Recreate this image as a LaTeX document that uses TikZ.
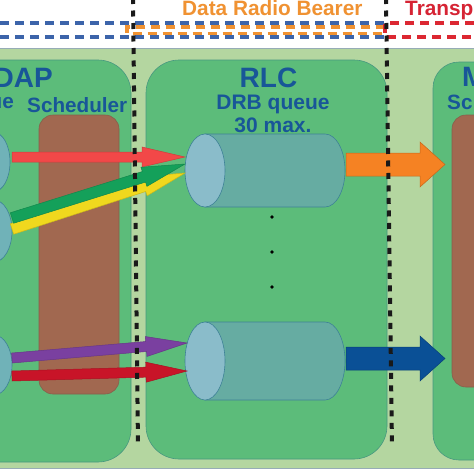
\documentclass[tikz,border=0pt]{standalone}
\usepackage{fontspec}
\setmainfont{Liberation Sans}
\usetikzlibrary{calc}
\definecolor{lightgreen}{RGB}{180,214,160}
\definecolor{bandline}{RGB}{150,172,182}
\definecolor{boxgreen}{RGB}{92,188,122}
\definecolor{boxborder}{RGB}{72,152,128}
\definecolor{schedbrown}{RGB}{161,104,80}
\definecolor{schedborder}{RGB}{135,95,75}
\definecolor{cylbody}{RGB}{102,172,162}
\definecolor{cylfront}{RGB}{138,188,202}
\definecolor{cylborder}{RGB}{62,130,150}
\definecolor{leftcyl}{RGB}{112,178,184}
\definecolor{textblue}{RGB}{24,86,152}
\definecolor{orangetxt}{RGB}{240,146,50}
\definecolor{redtxt}{RGB}{214,36,52}
\definecolor{dashblue}{RGB}{60,100,170}
\definecolor{dashorange}{RGB}{240,146,50}
\definecolor{dashred}{RGB}{220,40,50}
\definecolor{arrowred}{RGB}{242,72,72}
\definecolor{arrowgreen}{RGB}{20,160,90}
\definecolor{arrowyellow}{RGB}{240,216,30}
\definecolor{arrowpurple}{RGB}{122,64,160}
\definecolor{arrowdarkred}{RGB}{200,20,40}
\definecolor{arroworange}{RGB}{245,130,35}
\definecolor{arrowblue}{RGB}{10,80,150}
\newcommand\fsz[1]{\fontsize{#1}{#1}\selectfont\bfseries}
% fill style, shaft half width, head half width, head length, from, to
\newcommand\blockarrow[6]{%
  \coordinate (bah) at ($(#6)!#4!(#5)$);
  \filldraw[#1] ($(#5)!#2!90:(#6)$) -- ($(bah)!#2!90:(#6)$) -- ($(bah)!#3!90:(#6)$) -- (#6)
    -- ($(bah)!#3!-90:(#6)$) -- ($(bah)!#2!-90:(#6)$) -- ($(#5)!#2!-90:(#6)$) -- cycle;}
\tikzset{
  layerbox/.style={fill=boxgreen, draw=boxborder, line width=0.6pt, rounded corners=33pt},
  schedbox/.style={fill=schedbrown, draw=schedborder, line width=0.6pt, rounded corners=14pt},
  cylbodyst/.style={fill=cylbody, draw=cylborder, line width=0.6pt},
  cylfrontst/.style={fill=cylfront, draw=cylborder, line width=0.6pt},
  leftcylst/.style={fill=leftcyl, draw=cylborder, line width=0.6pt},
  bluetext/.style={text=textblue, inner sep=0pt},
  blackdash/.style={draw=black!90, line width=4pt, dash pattern=on 6pt off 6.5pt},
  bluedash/.style={draw=dashblue, line width=3.2pt, dash pattern=on 9pt off 6pt},
  orangedash/.style={draw=dashorange, line width=3.2pt, dash pattern=on 9pt off 6pt},
  reddash/.style={draw=dashred, line width=3.2pt, dash pattern=on 9pt off 6pt},
  thinarrow/.style={line width=0.5pt},
}
\begin{document}
\begin{tikzpicture}[x=1pt,y=-1pt]
\useasboundingbox (0,0) rectangle (474,474);
\clip (0,0) rectangle (474,474);
\fill[white] (0,0) rectangle (474,474);
% band
\filldraw[fill=lightgreen, draw=bandline, line width=0.8pt] (-2,48) rectangle (476,468);
% header dashed lines
\draw[bluedash] (0,23) -- (385,23);
\draw[bluedash] (0,37) -- (385,37);
\draw[orangedash] (385,27) -- (127,27) -- (127,33.5) -- (385,33.5);
\draw[reddash] (474,23) -- (385,23) -- (385,37) -- (474,37);
\node[text=orangetxt, inner sep=0pt, anchor=base west, font=\fsz{20.8}] (drb) at (182,15) {Data Radio Bearer};
\node[text=redtxt, inner sep=0pt, anchor=base west, font=\fsz{20.8}] (tr) at (405,15) {Transp};
% layer boxes
\draw[layerbox] (-40,60) rectangle (131,462);
\draw[layerbox] (146,60) rectangle (387,459);
\draw[layerbox, rounded corners=26pt] (433,62) rectangle (520,460);
% schedulers
\draw[schedbox] (39,115) rectangle (119,394);
\draw[schedbox] (452,115) rectangle (510,387);
% texts
\node[bluetext, anchor=base east, font=\fsz{28}] (pdcp) at (53,87) {DAP};
\node[bluetext, anchor=base east, font=\fsz{20.7}] (pq) at (14,108) {ue};
\node[bluetext, anchor=base west, font=\fsz{20.7}] (ps) at (27,112) {Scheduler};
\node[bluetext, anchor=base, font=\fsz{28}] (rlc) at (268.5,87) {RLC};
\node[bluetext, anchor=base, font=\fsz{21}] (rq) at (273,109) {DRB queue};
\node[bluetext, anchor=base, font=\fsz{21}] (rm) at (273,132) {30 max.};
\node[bluetext, anchor=base west, font=\fsz{28}] (mac) at (462,86) {M};
\node[bluetext, anchor=base west, font=\fsz{20.7}] (ms) at (447,109) {Sc};
% left cylinders (PDCP queues)
\draw[leftcylst] (-6,162) ellipse[x radius=16, y radius=29.5];
\draw[leftcylst] (-6,231) ellipse[x radius=18, y radius=31];
\draw[leftcylst] (-6,365) ellipse[x radius=18, y radius=30];
% RLC cylinders
\draw[cylbodyst] (205,134) -- (325,134) arc[start angle=-90, end angle=90, x radius=20, y radius=36.5] -- (205,207) -- cycle;
\draw[cylfrontst] (205,170.5) ellipse[x radius=20, y radius=36.5];
\draw[cylbodyst] (205,322) -- (325,322) arc[start angle=-90, end angle=90, x radius=20, y radius=39] -- (205,400) -- cycle;
\draw[cylfrontst] (205,361) ellipse[x radius=20, y radius=39];
% dots
\fill[black] (272,217) circle[radius=1.8];
\fill[black] (272,252) circle[radius=1.8];
\fill[black] (272,287) circle[radius=1.8];
% arrow end points
\coordinate (t1) at (12,157);   \coordinate (h1) at (185,157);
\coordinate (t2) at (12,229);   \coordinate (h2) at (185,173);
\coordinate (t3) at (12,218);   \coordinate (h3) at (185,164);
\coordinate (t4) at (12,358);   \coordinate (h4) at (187,343);
\coordinate (t5) at (12,376);   \coordinate (h5) at (187,371);
\coordinate (t6) at (346,164.5); \coordinate (h6) at (445,164.5);
\coordinate (t7) at (346,358.5); \coordinate (h7) at (445,358.5);
\blockarrow{thinarrow, fill=arrowred, draw=arrowred!85!black}{5pt}{10pt}{43pt}{t1}{h1}
\blockarrow{thinarrow, fill=arrowyellow, draw=arrowyellow!85!black}{5.5pt}{10pt}{43pt}{t2}{h2}
\blockarrow{thinarrow, fill=arrowgreen, draw=arrowgreen!85!black}{5.5pt}{10pt}{43pt}{t3}{h3}
\blockarrow{thinarrow, fill=arrowpurple, draw=arrowpurple!85!black}{5pt}{10pt}{41pt}{t4}{h4}
\blockarrow{thinarrow, fill=arrowdarkred, draw=arrowdarkred!85!black}{5pt}{10pt}{41pt}{t5}{h5}
\blockarrow{thinarrow, fill=arroworange, draw=arroworange!80!black}{11.5pt}{22.5pt}{25pt}{t6}{h6}
\blockarrow{thinarrow, fill=arrowblue, draw=arrowblue!80!black}{11.5pt}{22.5pt}{25pt}{t7}{h7}
% black dashed layer separators
\draw[blackdash] (133,-2) -- (138,447);
\draw[blackdash] (386,-2) -- (392,447);
\end{tikzpicture}
\end{document}
